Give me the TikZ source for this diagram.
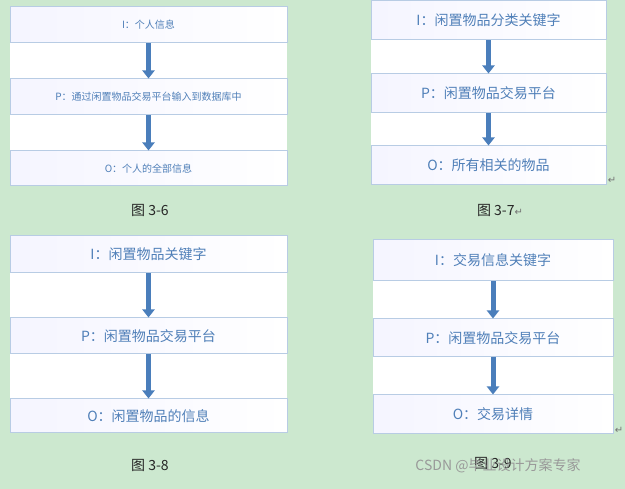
\documentclass[tikz,border=0pt]{standalone}
\usepackage{fontspec}
\newfontfamily\cjk{Noto Sans CJK SC}
\newfontfamily\dejavu{DejaVu Sans}
\usetikzlibrary{arrows.meta}
\definecolor{bg}{HTML}{CCE8CF}
\definecolor{bord}{HTML}{B8CCE4}
\definecolor{txt}{HTML}{4F7FB8}
\definecolor{arr}{HTML}{4A7EBB}
\tikzset{
 x=1pt,y=-1pt,
 bx/.style={draw=bord,line width=1pt,fill=white,left color=blue!4,right color=white,inner sep=0pt},
 lbl/.style={text=txt,font=\cjk\fontsize{#1}{#1}\selectfont},
 captxt/.style={font=\cjk\fontsize{14}{14}\selectfont,text=black!85},
 ar/.style={draw=arr,line width=5pt,-{Triangle[width=12pt,length=8pt]}},
 ret/.style={font=\dejavu\fontsize{10}{10}\selectfont,text=black!55}
}
\newcommand{\pbox}[6]{% name x1 y1 x2 y2 text size
 \node[bx,minimum width=#4-#2,minimum height=#5-#3] (#1) at ({(#2+#4)/2},{(#3+#5)/2}) {};
}
\begin{document}
\begin{tikzpicture}
\useasboundingbox[fill=bg] (0,0) rectangle (625,489);
% panel 1
\fill[white] (10,7) rectangle (287,186);
\pbox{a1}{10}{7}{287}{43}{}
\pbox{a2}{10}{79}{287}{115}{}
\pbox{a3}{10}{151}{287}{186}{}
\node[lbl=10] at (a1) {I：个人信息};
\node[lbl=10] at (a2) {P：通过闲置物品交易平台输入到数据库中};
\node[lbl=10] at (a3) {O：个人的全部信息};
\draw[ar] (a1.south) -- (a2.north);
\draw[ar] (a2.south) -- (a3.north);
\node[captxt] (c1) at (150,210) {图 3-6};
% panel 2
\fill[white] (371,0) rectangle (606,185);
\pbox{b1}{371}{1}{606}{40}{}
\pbox{b2}{371}{74}{606}{113}{}
\pbox{b3}{371}{146}{606}{185}{}
\node[lbl=14] at (b1) {I：闲置物品分类关键字};
\node[lbl=14] at (b2) {P：闲置物品交易平台};
\node[lbl=14] at (b3) {O：所有相关的物品};
\draw[ar] (b1.south) -- (b2.north);
\draw[ar] (b2.south) -- (b3.north);
\node[captxt] (c2) at (500,210) {图 3-7{\dejavu\fontsize{10}{10}\selectfont\textcolor{black!55}{↵}}};
\node[ret] (r2) at (612,180) {↵};
% panel 3
\fill[white] (10,236) rectangle (287,433);
\pbox{d1}{10}{236}{287}{273}{}
\pbox{d2}{10}{318}{287}{354}{}
\pbox{d3}{10}{399}{287}{433}{}
\node[lbl=14] at (d1) {I：闲置物品关键字};
\node[lbl=14] at (d2) {P：闲置物品交易平台};
\node[lbl=14] at (d3) {O：闲置物品的信息};
\draw[ar] (d1.south) -- (d2.north);
\draw[ar] (d2.south) -- (d3.north);
\node[captxt] (c3) at (150,465) {图 3-8};
% panel 4
\fill[white] (373,240) rectangle (613,434);
\pbox{e1}{373}{240}{613}{281}{}
\pbox{e2}{373}{319}{613}{357}{}
\pbox{e3}{373}{395}{613}{434}{}
\node[lbl=14] at (e1) {I：交易信息关键字};
\node[lbl=14] at (e2) {P：闲置物品交易平台};
\node[lbl=14] at (e3) {O：交易详情};
\draw[ar] (e1.south) -- (e2.north);
\draw[ar] (e2.south) -- (e3.north);
\node[captxt] (c4) at (493,463) {图 3-9};
\node[ret] (r4) at (619,430) {↵};
\node[font=\cjk\fontsize{14}{14}\selectfont,text=black!40] (wm) at (498,466) {CSDN @毕业设计方案专家};
\end{tikzpicture}
\end{document}
